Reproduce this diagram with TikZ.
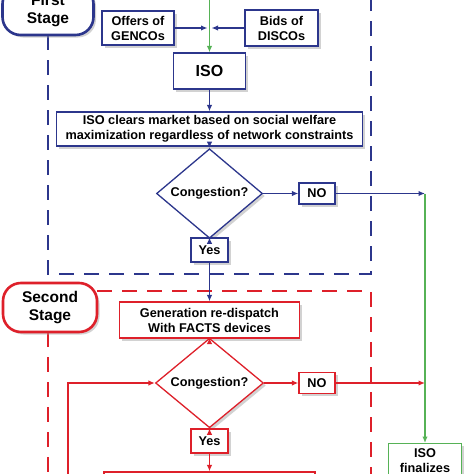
\documentclass[tikz,border=0pt]{standalone}
\usepackage{fontspec}
\setmainfont{Liberation Sans}
\usetikzlibrary{arrows.meta,shapes.geometric,shadows}
\definecolor{stageblue}{RGB}{44,54,140}
\definecolor{stagered}{RGB}{222,32,42}
\definecolor{stagegreen}{RGB}{86,178,86}

\begin{document}
\begin{tikzpicture}[x=1pt,y=-1pt,
    block/.style={
      draw,
      shape=rectangle,
      align=center,
      fill=white,
      text=black,
      line width=1.3pt,
      inner sep=0pt,
      font=\bfseries\fontsize{12.7}{15}\selectfont,
      drop shadow={shadow xshift=2.5pt,shadow yshift=-2.5pt,fill=black!35}
    },
    bluebox/.style={block,draw=stageblue},
    redbox/.style={block,draw=stagered},
    greenbox/.style={block,draw=stagegreen},
    decision/.style={shape=diamond,inner sep=0pt},
    stagebox/.style={
      draw,
      rounded corners=18pt,
      align=center,
      fill=white,
      text=black,
      line width=2.6pt,
      minimum width=91pt,
      minimum height=49pt,
      font=\bfseries\fontsize{15.5}{18}\selectfont,
      drop shadow={shadow xshift=2.5pt,shadow yshift=-2.5pt,fill=black!35}
    },
    stageframe/.style={line width=2.6pt,dash pattern=on 15pt off 10pt},
    flowline/.style={-{Latex[length=6.5pt,width=5.5pt]},line width=1.6pt}
    ]
    \useasboundingbox (0,0) rectangle (474,474);
    \clip (0,0) rectangle (474,474);
    % dashed stage frames
    \draw[stageframe,stageblue] (48,35) -- (48,274) -- (371,274) -- (371,-10);
    \draw[stageframe,stagered] (97,291) -- (371,291) -- (371,490);
    \draw[stageframe,stagered] (48,332) -- (48,490);
    % first stage
    \node[stagebox,draw=stageblue] (S1) at (48,10.5) {First\\Stage};
    \node[bluebox,minimum width=72pt,minimum height=34pt] (offers) at (138,28) {Offers of\\GENCOs};
    \node[bluebox,minimum width=73pt,minimum height=36pt] (bids) at (281.5,28) {Bids of\\DISCOs};
    \node[bluebox,minimum width=72pt,minimum height=36pt,font=\bfseries\fontsize{16}{18}\selectfont] (iso) at (209.5,71) {ISO};
    \node[bluebox,minimum width=306pt,minimum height=34pt] (clears) at (209.5,129) {ISO clears market based on social welfare\\maximization regardless of network constraints};
    \node[bluebox,decision,minimum width=106pt,minimum height=53pt] (cong1) at (209.5,193.5) {Congestion?};
    \node[bluebox,minimum width=36pt,minimum height=21pt] (no1) at (317,193.5) {NO};
    \node[bluebox,minimum width=37pt,minimum height=24pt] (yes1) at (209.5,250) {Yes};
    % second stage
    \node[stagebox,draw=stagered,minimum width=94pt] (S2) at (50,307.5) {Second\\Stage};
    \node[redbox,minimum width=180pt,minimum height=36pt] (gen) at (209.5,320) {Generation re-dispatch\\With FACTS devices};
    \node[redbox,decision,minimum width=108pt,minimum height=52pt] (cong2) at (209.5,383) {Congestion?};
    \node[redbox,minimum width=36pt,minimum height=21pt] (no2) at (317,383) {NO};
    \node[redbox,minimum width=37pt,minimum height=24pt] (yes2) at (209.5,441) {Yes};
    \node[redbox,minimum width=211pt,minimum height=36pt] (next) at (209.5,490) {};
    \node[greenbox,minimum width=73pt,inner ysep=5pt,anchor=north] (final) at (425,443) {ISO\\finalizes};
    % joints
    \coordinate (top) at (209.5,-10);
    \coordinate (mL) at (207.5,28);
    \coordinate (mR) at (211.5,28);
    \coordinate (j1) at (425,193.5);
    \coordinate (j2) at (425,383);
    \coordinate (loop) at (68,490);
    % connectors
    \draw[flowline,stagegreen] (top) -- (iso);
    \draw[flowline,stageblue] (offers) -- (mL);
    \draw[flowline,stageblue] (bids) -- (mR);
    \draw[flowline,stageblue] (iso) -- (clears);
    \draw[flowline,stageblue] (clears) -- (cong1);
    \draw[flowline,stageblue] (cong1) -- (no1);
    \draw[flowline,stageblue] (no1) -- (j1);
    \draw[flowline,stageblue] (cong1) -- (yes1);
    \draw[flowline,stageblue] (yes1) -- (gen);
    \draw[flowline,stagered] (gen) -- (cong2);
    \draw[flowline,stagered] (cong2) -- (no2);
    \draw[flowline,stagered] (no2) -- (j2);
    \draw[flowline,stagered] (cong2) -- (yes2);
    \draw[flowline,stagered] (yes2) -- (next);
    \draw[flowline,stagered] (loop) |- (cong2);
    \draw[flowline,stagegreen] (j1) -- (final);
\end{tikzpicture}
\end{document}
